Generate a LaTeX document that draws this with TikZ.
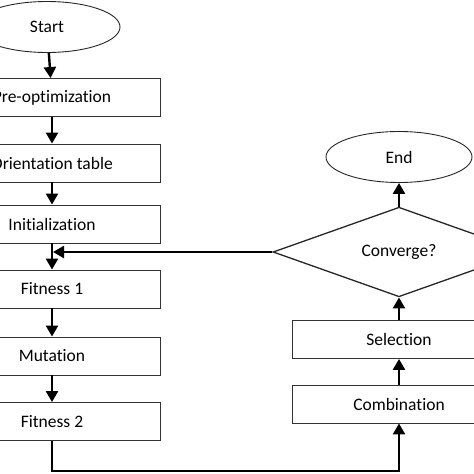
\documentclass[tikz,border=0pt]{standalone}
\usepackage{fontspec}
\setmainfont{Carlito}[Ligatures={NoCommon,NoContextual}]
\usepackage{tikz}
\usetikzlibrary{shapes.geometric,arrows.meta,calc,positioning}

\tikzset{
    stepbox/.style={draw=black!80, line width=0.9pt, rectangle, minimum width=216, minimum height=38, inner sep=0pt},
    term/.style={draw=black!85, line width=0.9pt, ellipse, minimum width=146, minimum height=51, inner sep=0pt},
    test/.style={draw=black!85, line width=1.3pt, diamond, minimum width=252, minimum height=88, inner sep=0pt},
    flow/.style={line width=2.4pt, -{Triangle[width=12pt,length=11pt]}},
}

\begin{document}
\begin{tikzpicture}[x=1pt,y=-1pt, font=\fontsize{17.5}{20}\selectfont]
    \path[use as bounding box, clip] (0,0) rectangle (474,474);
    % Left column
    \node[term] (start) at (47,27) {Start};
    \node[stepbox] (pre) at (52,97.5) {Pre-optimization};
    \node[stepbox] (orient) at (52,163) {Orientation table};
    \node[stepbox] (init) at (52,224) {Initialization};
    \node[stepbox] (fit1) at (52,289) {Fitness 1};
    \node[stepbox] (mut) at (52,356) {Mutation};
    \node[stepbox] (fit2) at (52,421.5) {Fitness 2};
    % Right column
    \node[stepbox, minimum width=214] (comb) at (399,404) {Combination};
    \node[stepbox, minimum width=214] (sel) at (399,339.5) {Selection};
    \node[test] (conv) at (399,252) {Converge?};
    \node[term] (end) at (399,157) {End};
    % Arrows down the left column
    \draw[flow] (start) -- (pre);
    \draw[flow] (pre) -- (orient);
    \draw[flow] (orient) -- (init);
    \draw[flow] (init) -- (fit1);
    \draw[flow] (fit1) -- (mut);
    \draw[flow] (mut) -- (fit2);
    % Across to the right column
    \draw[flow] (fit2.south) -- ++(0,30) -| (comb.south);
    \draw[flow] (comb) -- (sel);
    \draw[flow] (sel) -- (conv.south);
    \draw[flow] (conv.north) -- (end);
    % Loop back
    \coordinate (back) at ($(init.south |- conv.west)+(1,0)$);
    \draw[flow] (conv.west) -- (back);
\end{tikzpicture}
\end{document}
